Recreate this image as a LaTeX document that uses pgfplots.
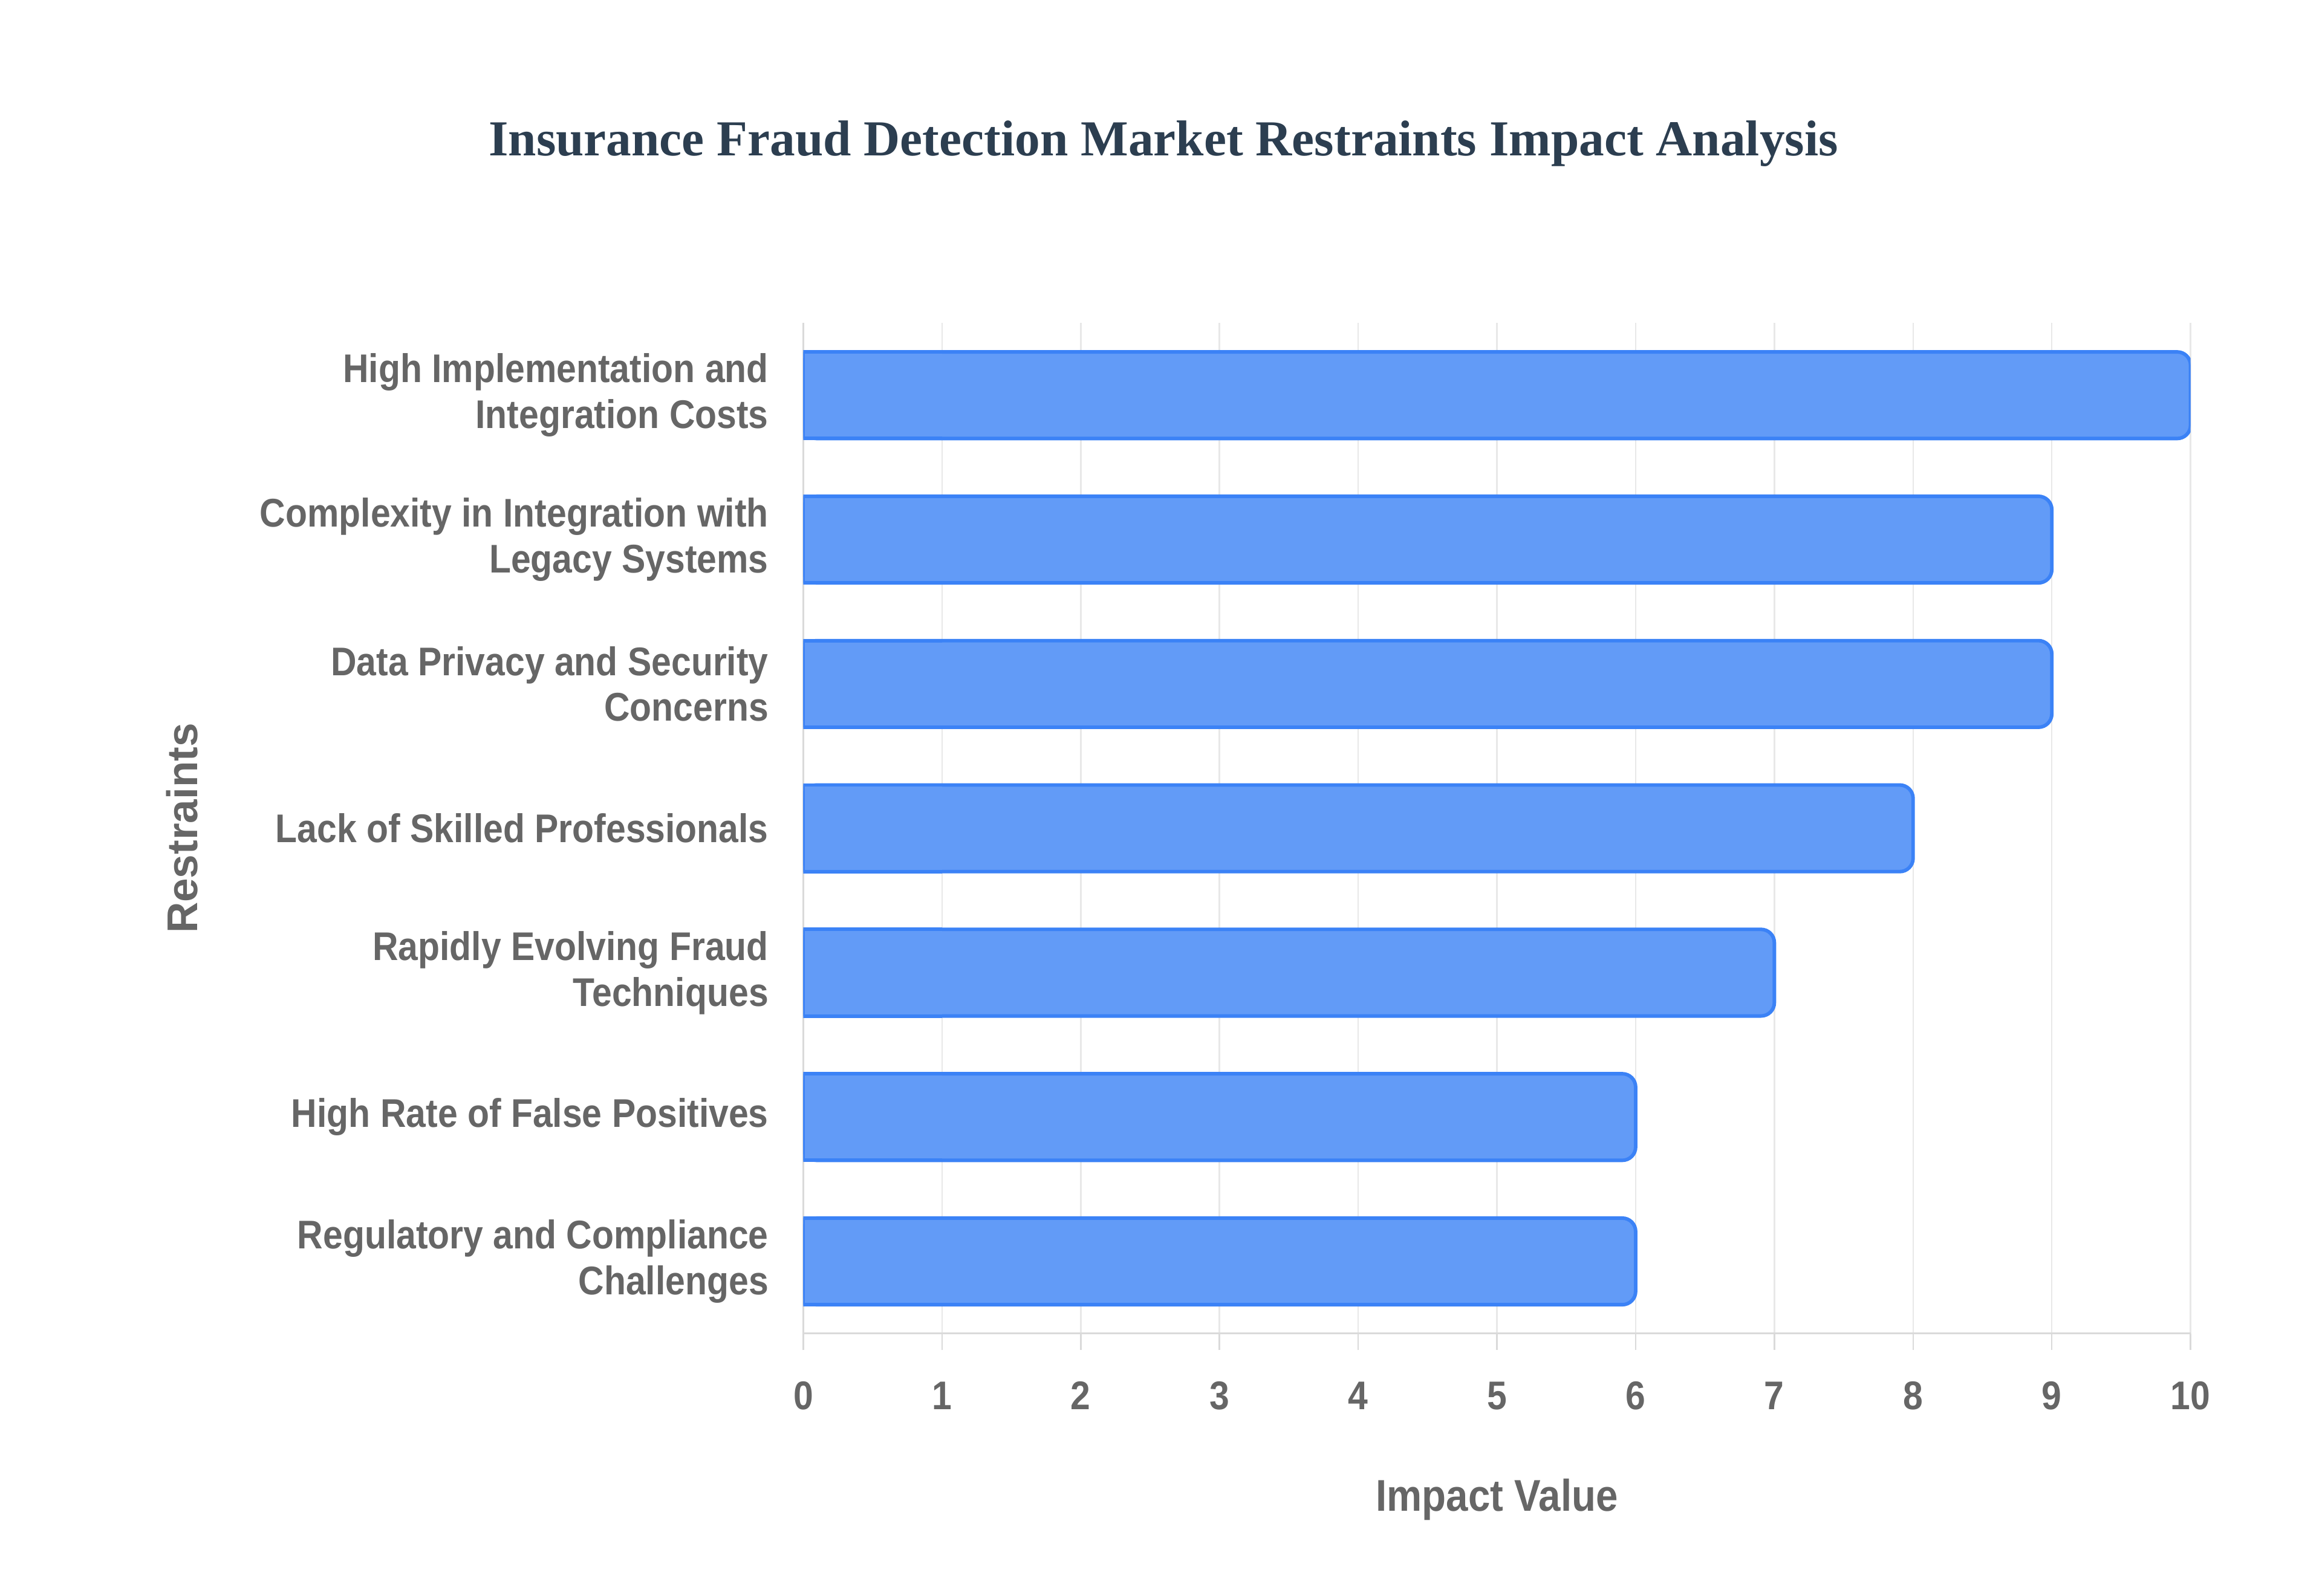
\documentclass[border=0pt]{standalone}
\usepackage{fontspec}
\setmainfont{Liberation Sans}[FakeStretch=0.89]
\newfontfamily\titlefont{Liberation Serif}
\newfontfamily\plainsans{Liberation Sans}
\usepackage{pgfplots}
\usepackage{pgfplotstable}
\pgfplotsset{compat=1.18}

\definecolor{barfill}{RGB}{98,155,247}
\definecolor{barline}{RGB}{59,130,246}
\definecolor{labelgray}{RGB}{102,102,102}
\definecolor{titleblue}{RGB}{44,62,80}
\definecolor{gridgray}{RGB}{232,232,232}
\definecolor{axisgray}{RGB}{218,218,218}

% top to bottom
\pgfplotstableread{
pos val
0 10
1 9
2 9
3 8
4 7
5 6
6 6
}\restraints

\begin{document}
\begin{tikzpicture}
\path (0,-10.1pt) rectangle (1566.7pt,1067pt);
\node[font=\titlefont\bfseries\fontsize{34}{40}\selectfont, text=titleblue]
  at (785pt,970pt) {Insurance Fraud Detection Market Restraints Impact Analysis};
\node[font=\plainsans\bfseries\fontsize{29}{34}\selectfont, text=labelgray, rotate=90]
  at (123pt,508pt) {Restraints};
\node[font=\bfseries\fontsize{30}{35}\selectfont, text=labelgray]
  at (1010pt,55pt) {Impact Value};
\begin{axis}[
    at={(542pt,167pt)}, anchor=south west,
    width=936pt, height=682pt, scale only axis,
    xmin=0, xmax=10, ymin=-0.5, ymax=6.5,
    y dir=reverse,
    xtick={0,1,...,10},
    ytick={0,1,...,6},
    yticklabels={
      {High Implementation and\\Integration Costs},
      {Complexity in Integration with\\Legacy Systems},
      {Data Privacy and Security\\Concerns},
      {Lack of Skilled Professionals},
      {Rapidly Evolving Fraud\\Techniques},
      {High Rate of False Positives},
      {Regulatory and Compliance\\Challenges}},
    axis x line*=bottom,
    axis y line*=left,
    axis line style={draw=axisgray, line width=1.2pt},
    xmajorgrids,
    grid style={draw=gridgray, line width=1pt},
    tick align=outside,
    major tick length=11pt,
    xtick style={draw=axisgray, line width=1pt},
    ytick style={draw=none},
    /pgf/number format/assume math mode=true,
    xticklabel style={font=\bfseries\fontsize{27}{31}\selectfont, text=labelgray, yshift=-18pt},
    yticklabel style={font=\bfseries\fontsize{27}{31}\selectfont, text=labelgray, align=right, xshift=-9pt},
]
\addplot[xbar, bar shift=0pt, bar width=0.6, fill=barfill, draw=barline,
  line width=2.4pt, rounded corners=9pt] table[x=val, y=pos] {\restraints};
\begin{scope}
\clip (axis cs:0,-1) rectangle (axis cs:1,7);
\addplot[xbar, bar shift=0pt, bar width=0.6, fill=barfill, draw=barline,
  line width=2.4pt, forget plot] table[x=val, y=pos] {\restraints};
\end{scope}
\end{axis}
\end{tikzpicture}
\end{document}
